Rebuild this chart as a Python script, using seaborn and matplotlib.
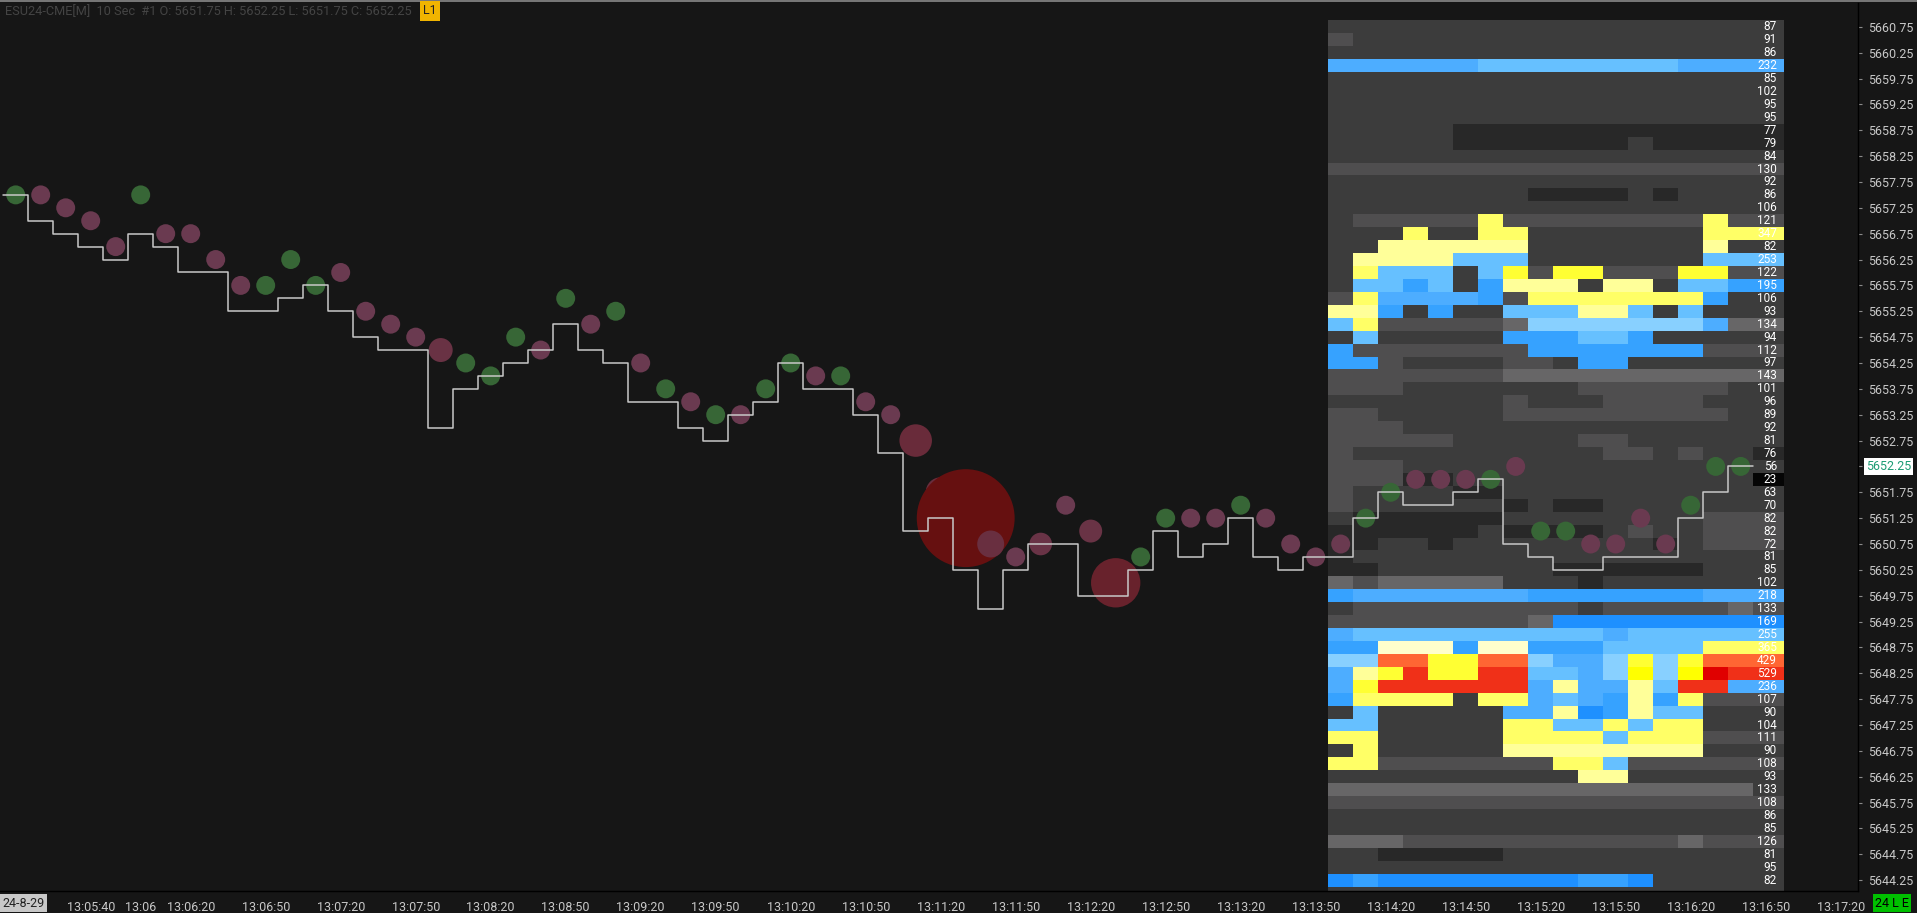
import numpy as np
import matplotlib
matplotlib.use("Agg")
import matplotlib.pyplot as plt
import seaborn as sns
from matplotlib.colors import ListedColormap, BoundaryNorm

# ---- data -------------------------------------------------------------
# 10-second bars, first bar at 13:05:10 (seconds after 13:05:00 = 10, 20, ...)
n_bars = 70
bar_secs = np.arange(10, 10 * n_bars + 1, 10)

close_px = [5657.50, 5657.00, 5656.75, 5656.50, 5656.25, 5656.75, 5656.50, 5656.00, 5656.00, 5655.25,
            5655.25, 5655.50, 5655.75, 5655.25, 5654.75, 5654.50, 5654.50, 5653.00, 5653.75, 5654.00,
            5654.25, 5654.50, 5655.00, 5654.50, 5654.25, 5653.50, 5653.50, 5653.00, 5652.75, 5653.25,
            5653.50, 5654.25, 5653.75, 5653.75, 5653.25, 5652.50, 5651.00, 5651.25, 5650.25, 5649.50,
            5650.25, 5650.75, 5650.75, 5649.75, 5649.75, 5650.25, 5651.00, 5650.50, 5650.75, 5651.25,
            5650.50, 5650.25, 5650.50, 5650.50, 5651.25, 5651.75, 5651.50, 5651.50, 5651.75, 5652.00,
            5650.75, 5650.50, 5650.25, 5650.25, 5650.50, 5650.50, 5650.50, 5651.25, 5651.75, 5652.25]

bubble_px = [5657.50, 5657.50, 5657.25, 5657.00, 5656.50, 5657.50, 5656.75, 5656.75, 5656.25, 5655.75,
             5655.75, 5656.25, 5655.75, 5656.00, 5655.25, 5655.00, 5654.75, 5654.50, 5654.25, 5654.00,
             5654.75, 5654.50, 5655.50, 5655.00, 5655.25, 5654.25, 5653.75, 5653.50, 5653.25, 5653.25,
             5653.75, 5654.25, 5654.00, 5654.00, 5653.50, 5653.25, 5652.75, 5651.75, 5651.25, 5650.75,
             5650.50, 5650.75, 5651.50, 5651.00, 5650.00, 5650.50, 5651.25, 5651.25, 5651.25, 5651.50,
             5651.25, 5650.75, 5650.50, 5650.75, 5651.25, 5651.75, 5652.00, 5652.00, 5652.00, 5652.00,
             5652.25, 5651.00, 5651.00, 5650.75, 5650.75, 5651.25, 5650.75, 5651.50, 5652.25, 5652.25]

bubble_side = list("BSSSSBSSSSBBBSSSSSBBBSBSBSBSBSBBSBSSSSSSSSSSSBBSSBSSSSBBSSSBSBBSSSSBBB")

bubble_vol = [90] * n_bars
for i, v in {18: 144, 37: 265, 38: 225, 39: 2400, 40: 182, 42: 128, 44: 132, 45: 610}.items():
    bubble_vol[i - 1] = v

# liquidity heatmap: rows from 5660.75 down, 17 bar columns (13:14:00 .. 13:16:40) + current column
heat_top = 5660.75
heat_rows = [
    "bbbbbbbbbbbbbbbbbb", "mbbbbbbbbbbbbbbbbb", "bbbbbbbbbbbbbbbbbb", "DDDDDDEEEEEEEEDDDD",
    "bbbbbbbbbbbbbbbbbb", "bbbbbbbbbbbbbbbbbb", "bbbbbbbbbbbbbbbbbb", "bbbbbbbbbbbbbbbbbb",
    "bbbbbddddddddddddd", "bbbbbdddddddbddddd", "bbbbbbbbbbbbbbbbbb", "mmmmmmmmmmmmmmmmmm",
    "bbbbbbbbbbbbbbbbbb", "bbbbbbbbddddbdbbbb", "bbbbbbbbbbbbbbbbbb", "bmmmmmymmmmmmmmymm",
    "bbbybbyybbbbbbbyyy", "bbppppppbbbbbbbpbb", "bppppEEEbbbbbbbEEE", "byEEEbEYmYYmmmYYmm",
    "bEECEbCpppbppbEECC", "myDDDDCmyyyyyyyCbb", "ppCbCbbEEEppEbEbbb", "EymmmmmlFFFFFFFDll",
    "bEbbbbbCCCEECbbbbb", "CmmmmmmmCCCCCCCmmm", "CCmbbbbmmbCCbbbbbb", "mmmmmmmlllllllllll",
    "mmmbbbbbbbmmmmmmbb", "bbbbbbbmbbbmmmmbbb", "mmbbbbbmmmmmmmmmbb", "mmmbbbbbbbbbbbbbbb",
    "mmmmmbbbbbmmbbbbbb", "mbbbbbbbbbbmmbmbbd", "mmmbbbbbbbbbbbbbbb", "mmmddbbbbbbbbbbbbk",
    "mbbbbddbbbbbbbbbbb", "mbbbbbbdbddbbbbbbb", "bddddddbbbbbbbbmmm", "ddddddbddddbmbbmmm",
    "ddbbdbbbbbbbbdbmmm", "dbbbbbbbbbbbbbbbbb", "ddbbbbbbbddddddbbb", "lmlllllbbbdbbbbbbb",
    "CDDDDDDDCCCCCCCDDD", "bmmmmmmmmmbmmmmmlm", "mmmmmmmmlBBBBBBBBB", "DEEEEEEEEEEDEEEEEE",
    "CCwwwCwwCCCEEEEyyy", "FFooYYooFDDFYFYooo", "DpYrYYrrEEDFZFZRrr", "DYrrrrrrDpDDpErrDD",
    "CyyyybyyDEDCpCymmm", "bEbbbbbDDpBCpEEbbb", "EEbbbbbyyEEyEyybbb", "yybbbbbyyyyEyyymmm",
    "bybbbbbppppppppbbb", "yymmmmmmmyyEmmmmmm", "bbbbbbbbbbppbbbbbb", "lllllllllllllllllb",
    "mmmmmmmmmmmmmmmmmm", "bbbbbbbbbbbbbbbbbb", "bbbbbbbbbbbbbbbbbb", "lllmmmmmmmmmmmlmmm",
    "bbdddddbbbbbbbbbbb", "bbbbbbbbbbbbbbbbbb", "BCBBBBBBBBCCBbbbbb", "bbbbbbbbbbbbbbbbbb",
]
heat_labels = [87, 91, 86, 232, 85, 102, 95, 95, 77, 79, 84, 130, 92, 86, 106, 121, 347, 82, 253, 122,
               195, 106, 93, 134, 94, 112, 97, 143, 101, 96, 89, 92, 81, 76, 56, 23, 63, 70, 82, 82,
               72, 81, 85, 102, 218, 133, 169, 255, 365, 429, 529, 236, 107, 90, 104, 111, 90, 108, 93, 133,
               108, 86, 85, 126, 81, 95, 82]

level_codes = "kdbmlBCDEFwpyYZorR"
level_colors = ["#050505", "#282828", "#3c3c3c", "#4f4e4f", "#676667",
                "#1e90ff", "#36a2ff", "#4dadff", "#66c0ff", "#88d0ff",
                "#ffffcc", "#ffff99", "#ffff66", "#ffff33", "#ffff00",
                "#ff6633", "#f03018", "#e00000"]

x_tick_secs = [40, 60] + list(range(80, 741, 30))
x_tick_text = ["13:05:40", "13:06"] + [f"13:{(s // 60) + 5:02d}:{s % 60:02d}" for s in range(80, 741, 30)]
y_ticks = np.arange(5644.25, 5660.76, 0.5)

last_price = 5652.25
header = "ESU24-CME[M]  10 Sec  #1 O: 5651.75 H: 5652.25 L: 5651.75 C: 5652.25"

# ---- style ------------------------------------------------------------
BG = "#161616"
TXT = "#c8c8c8"
sns.set_theme(style="dark", rc={"axes.facecolor": BG, "figure.facecolor": BG})
plt.rcParams["font.family"] = ["Roboto", "DejaVu Sans"]

W, H = 1917, 913
fig = plt.figure(figsize=(W / 100, H / 100), dpi=100, facecolor=BG)
ax = fig.add_axes([0, 1 - 891 / H, 1858 / W, 888 / H])
ax.set_facecolor(BG)
ax.grid(False)

# heatmap (bar columns 13:14:00..13:16:40, then the narrow current column)
col_edges = list(np.arange(535, 706, 10)) + [717.4]
n_rows = len(heat_rows)
row_edges = heat_top + 0.125 - 0.25 * np.arange(n_rows + 1)
level_idx = np.array([[level_codes.index(ch) for ch in r] for r in heat_rows])
cmap = ListedColormap(level_colors)
norm = BoundaryNorm(np.arange(len(level_colors) + 1) - 0.5, cmap.N)
ax.pcolormesh(col_edges, row_edges, level_idx, cmap=cmap, norm=norm, zorder=1)
for r, v in enumerate(heat_labels):
    ax.text(714.5, heat_top - 0.25 * r, str(v), ha="right", va="center",
            color="white", fontsize=8.5, zorder=6)

# bubbles
green, maroon, dark_red = np.array([0x37, 0x66, 0x36]), np.array([0x6a, 0x3a, 0x50]), np.array([0x66, 0x10, 0x10])
radius = np.sqrt(bubble_vol)
cols = []
for side, r in zip(bubble_side, radius):
    if side == "B":
        c = green
    else:
        f = np.clip((r - 9.5) / (49 - 9.5), 0, 1) ** 0.6
        c = maroon * (1 - f) + dark_red * f
    cols.append("#%02x%02x%02x" % tuple(int(round(x)) for x in c))
sns.scatterplot(x=bar_secs, y=bubble_px, hue=cols, palette={c: c for c in set(cols)},
                s=np.array(bubble_vol) * 2.07, linewidth=0, legend=False, ax=ax, zorder=3)

# close price step line
edges = np.append(bar_secs - 5, bar_secs[-1] + 5)
ax.step(edges, close_px + [close_px[-1]], where="post", color="#c8c8c8", lw=1.1, zorder=4)

# axes
ax.set_xlim(3.72, 746.92)
ax.set_ylim(5644.041, 5661.21)
ax.yaxis.tick_right()
ax.set_yticks(y_ticks)
ax.set_yticklabels([f"{v:.2f}" for v in y_ticks])
ax.set_xticks(x_tick_secs)
ax.set_xticklabels(x_tick_text)
ax.tick_params(axis="both", colors="#8a8a8a", labelcolor=TXT, labelsize=9, length=3, width=0.8,
               direction="out", pad=4)
ax.set_xlabel("")
ax.set_ylabel("")
for side in ["left", "top"]:
    ax.spines[side].set_visible(False)
for side in ["right", "bottom"]:
    ax.spines[side].set_color("#000000")
    ax.spines[side].set_linewidth(1)

# current price tag on axis
ax.text(1.0043, last_price, f"{last_price:.2f}", transform=ax.get_yaxis_transform(),
        ha="left", va="center", fontsize=9, color="#1c9c74", zorder=7, clip_on=False,
        bbox=dict(boxstyle="square,pad=0.18", fc="white", ec="none"))

# header, boxes
fig.text(5 / W, 1 - 12 / H, header, ha="left", va="center", fontsize=9.2, color="#444444")
fig.text(430 / W, 1 - 11 / H, "L1", ha="center", va="center", fontsize=9, color="#222222",
         bbox=dict(boxstyle="square,pad=0.25", fc="#f0b400", ec="none"))
fig.text(2 / W, 1 - 903 / H, "24-8-29", ha="left", va="center", fontsize=9, color="#222222",
         bbox=dict(boxstyle="square,pad=0.2", fc="#c8c8c8", ec="none"))
fig.text(1892 / W, 1 - 903 / H, "24 L E", ha="center", va="center", fontsize=9, color="#000000",
         bbox=dict(boxstyle="square,pad=0.2", fc="#00c000", ec="none"))
fig.add_artist(plt.Line2D([0, 1], [1 - 1.5 / H, 1 - 1.5 / H], color="#8a8a8a", lw=1.2))

fig.savefig("out.png", dpi=100, facecolor=BG)
